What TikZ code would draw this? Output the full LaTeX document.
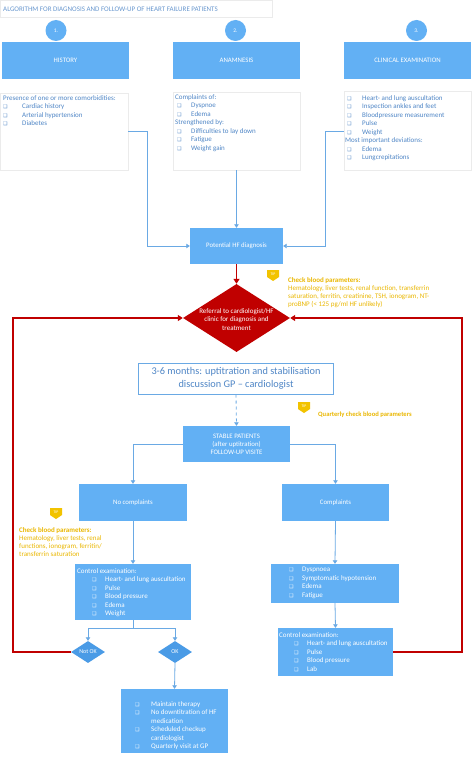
\documentclass[tikz,border=0pt]{standalone}
\usepackage{fontspec}
\setmainfont{Carlito}
\newfontfamily\djv{DejaVu Sans}
\usetikzlibrary{shapes.geometric,arrows.meta,calc}
\definecolor{boxblue}{HTML}{62B0F4}
\definecolor{lineblue}{HTML}{6AA9E4}
\definecolor{txtblue}{HTML}{4F86C6}
\definecolor{darkred}{HTML}{C00000}
\definecolor{tipyel}{HTML}{F2C300}
\definecolor{tiptxt}{HTML}{EAB700}
\definecolor{dmdblue}{HTML}{4A9BE6}
\newcommand\fsz[2]{\fontsize{#1}{#2}\selectfont}
\newcommand\cbx{{\djv\fontsize{5}{5}\selectfont ❑}}
\newcommand\itm[3]{\hspace*{#1pt}\makebox[#2pt][l]{\cbx}#3}
\newcommand\tipbadge[3]{%
  \fill[tipyel] (#2-6,#3-5) -- (#2+6,#3-5) -- (#2+6,#3+2) -- (#2,#3+6) -- (#2-6,#3+2) -- cycle;
  \node[font=\fsz{3.8}{4}, text=white, inner sep=0pt] (#1) at (#2,#3-1) {TIP};}
\begin{document}
\begin{tikzpicture}[x=1pt,y=-1pt,
 bbox/.style={rectangle, fill=boxblue, text=white, font=\fsz{6.8}{8}, inner sep=0pt, align=center},
 wbox/.style={rectangle, draw=black!8, fill=white, inner sep=0pt},
 lst/.style={anchor=north west, inner sep=0pt, align=left, font=\fsz{7}{8.5}},
 bline/.style={draw=lineblue, line width=0.8pt},
 barrow/.style={bline, -{Triangle[width=4.5pt,length=3.5pt]}},
 rline/.style={draw=darkred, line width=1.4pt, -{Triangle[width=6pt,length=5pt]}},
 circ/.style={circle, fill=boxblue, text=white, minimum size=21pt, inner sep=0pt, font=\fsz{5.5}{6}},
 dmd/.style={diamond, fill=dmdblue, minimum width=34pt, minimum height=22pt, inner sep=0pt, text=white, font=\fsz{6}{6}},
 tiptext/.style={anchor=north west, inner sep=0pt, align=left, text=tiptxt, font=\fsz{7}{8}}
]
\useasboundingbox[fill=white] (0,0) rectangle (474,757);

% title
\node[wbox, minimum width=272pt, minimum height=17pt, anchor=north west] (title) at (0,0) {};
\node[anchor=west, inner sep=0pt, text=txtblue!85, font=\fsz{7}{8}] (titletxt) at (3,9) {ALGORITHM FOR DIAGNOSIS AND FOLLOW-UP OF HEART FAILURE PATIENTS};

% circles
\node[circ] (c1) at (56,30.5) {1.};
\node[circ] (c2) at (235.5,30.5) {2.};
\node[circ] (c3) at (416.5,30.5) {3.};

% top boxes
\node[bbox, minimum width=127pt, minimum height=37pt] (hist) at (65.5,60.5) {HISTORY};
\node[bbox, minimum width=127pt, minimum height=37pt] (anam) at (236.5,60.5) {ANAMNESIS};
\node[bbox, minimum width=127pt, minimum height=37pt] (clin) at (407.5,60.5) {CLINICAL EXAMINATION};

% list boxes
\node[wbox, minimum width=128pt, minimum height=77pt] (histlist) at (64,131.5) {};
\node[lst, text=txtblue] (histtxt) at (3,95) {Presence of one or more comorbidities:\\
\itm{0}{19}{Cardiac history}\\
\itm{0}{19}{Arterial hypertension}\\
\itm{0}{19}{Diabetes}};

\node[wbox, minimum width=127pt, minimum height=78pt] (anamlist) at (236.5,131) {};
\node[lst, text=txtblue] (anamtxt) at (175,94) {Complaints of:\\
\itm{2}{14}{Dyspnoe}\\
\itm{2}{14}{Edema}\\
Strengthened by:\\
\itm{2}{14}{Difficulties to lay down}\\
\itm{2}{14}{Fatigue}\\
\itm{2}{14}{Weight gain}};

\node[wbox, minimum width=127pt, minimum height=79pt] (clinlist) at (407.5,130.5) {};
\node[lst, text=txtblue] (clintxt) at (345,95) {\itm{2}{15}{Heart- and lung auscultation}\\
\itm{2}{15}{Inspection ankles and feet}\\
\itm{2}{15}{Bloodpressure measurement}\\
\itm{2}{15}{Pulse}\\
\itm{2}{15}{Weight}\\
Most important deviations:\\
\itm{2}{15}{Edema}\\
\itm{2}{15}{Lungcrepitations}};

% potential HF
\node[bbox, minimum width=93pt, minimum height=36pt] (hf) at (236.5,246) {Potential HF diagnosis};

\coordinate (l1) at (147,131);
\draw[barrow] (histlist.east |- l1) -- (l1) |- (hf.west);
\draw[barrow] (anamlist.south) -- (hf.north);
\coordinate (r1) at (325,131);
\draw[barrow] (clinlist.west |- r1) -- (r1) |- (hf.east);

% referral diamond
\node[diamond, fill=darkred, minimum width=107pt, minimum height=68pt, inner sep=0pt] (ref) at (236.5,318) {};
\node[align=center, text=white, font=\fsz{7}{8.3}, inner sep=0pt] (reftxt) at (236.5,319.5) {Referral to cardiologist/HF\\clinic for diagnosis and\\treatment};
\draw[rline] (hf.south) -- (ref.north);

% tip 1
\tipbadge{tipA}{273}{275}
\node[tiptext] (tipAtxt) at (288,277.5) {\textbf{Check blood parameters:}\\
Hematology, liver tests, renal function, transferrin\\
saturation, ferritin, creatinine, TSH, ionogram, NT-\\
proBNP (< 125 pg/ml HF unlikely)};

% 3-6 months
\node[rectangle, draw=lineblue, line width=1pt, fill=white, minimum width=195pt, minimum height=31pt, inner sep=0pt, align=center, text=txtblue, font=\fsz{10.3}{12.8}] (months) at (236,378.5) {3-6 months: uptitration and stabilisation\\discussion GP -- cardiologist};

% tip 2
\tipbadge{tipB}{304}{407}
\node[anchor=west, inner sep=0pt, text=tiptxt, font=\bfseries\fsz{6.6}{7}] (tipBtxt) at (318,415) {Quarterly check blood parameters};

% stable
\node[bbox, minimum width=107pt, minimum height=36pt] (stable) at (236.5,444) {STABLE PATIENTS\\(after uptitration)\\FOLLOW-UP VISITE};
\draw[barrow, dashed] (months.south) -- (stable.north);

\node[bbox, minimum width=108pt, minimum height=37pt] (nocomp) at (133,502.5) {No complaints};
\node[bbox, minimum width=107pt, minimum height=37pt] (comp) at (335.5,502.5) {Complaints};
\draw[barrow] (stable.west) -| (nocomp.north);
\draw[barrow] (stable.east) -| (comp.north);

% tip 3
\tipbadge{tipC}{56}{513}
\node[tiptext] (tipCtxt) at (19,527.5) {\textbf{Check blood parameters:}\\
Hematology, liver tests, renal\\
functions, ionogram, ferritin/\\
transferrin saturation};

% left control exam
\node[bbox, minimum width=116pt, minimum height=56pt] (ctrlL) at (133,592) {};
\node[lst, text=white] (ctrlLtxt) at (77,568) {Control examination:\\
\itm{15}{13}{Heart- and lung auscultation}\\
\itm{15}{13}{Pulse}\\
\itm{15}{13}{Blood pressure}\\
\itm{15}{13}{Edema}\\
\itm{15}{13}{Weight}};
\draw[barrow] (nocomp.south) -- (ctrlL.north);

% right symptoms
\node[bbox, minimum width=128pt, minimum height=39pt] (symp) at (335,583.5) {};
\node[lst, text=white] (symptxt) at (289,567) {\itm{0}{13}{Dyspnoea}\\
\itm{0}{13}{Symptomatic hypotension}\\
\itm{0}{13}{Edema}\\
\itm{0}{13}{Fatigue}};
\draw[barrow] (comp.south) -- (symp.north);

\node[bbox, minimum width=115pt, minimum height=48pt] (ctrlR) at (335.5,652) {};
\node[lst, text=white] (ctrlRtxt) at (279,632) {Control examination:\\
\itm{15}{13}{Heart- and lung auscultation}\\
\itm{15}{13}{Pulse}\\
\itm{15}{13}{Blood pressure}\\
\itm{15}{13}{Lab}};
\draw[barrow] (symp.south) -- (ctrlR.north);

% diamonds
\node[dmd] (notok) at (88,652) {Not OK};
\node[dmd] (ok) at (175,652) {OK};
\coordinate (sp) at (133,628);
\draw[bline] (ctrlL.south) -- (sp);
\draw[barrow] (sp) -| (notok.north);
\draw[barrow] (sp) -| (ok.north);

% final box
\node[bbox, minimum width=107pt, minimum height=64pt] (final) at (174.5,721) {};
\node[lst, text=white] (finaltxt) at (135,701) {\itm{0}{16}{Maintain therapy}\\
\itm{0}{16}{No downtitration of HF}\\
\hspace*{16pt}medication\\
\itm{0}{16}{Scheduled checkup}\\
\hspace*{16pt}cardiologist\\
\itm{0}{16}{Quarterly visit at GP}};
\draw[barrow] (ok.south) -- (final.north);

% red loops
\coordinate (lcL) at (13,652);
\draw[rline] (notok.west) -- (lcL) |- (ref.west);
\coordinate (lcR) at (462,652);
\draw[rline] (ctrlR.east) -- (lcR) |- (ref.east);
\end{tikzpicture}
\end{document}
